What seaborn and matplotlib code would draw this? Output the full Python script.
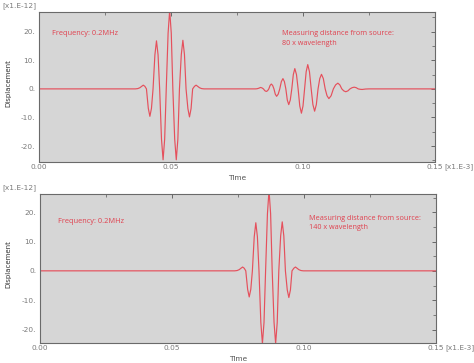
import numpy as np
import pandas as pd
import matplotlib
matplotlib.use("Agg")
import matplotlib.pyplot as plt
from matplotlib.ticker import MultipleLocator, FixedLocator
import seaborn as sns

# ---------------- data (time in 1e-3 s, displacement in 1e-12) ----------------
# Top panel: 80 x wavelength
t_top = [0.0000, 0.0365, 0.0374, 0.0382, 0.0389, 0.0395, 0.0401, 0.0407, 0.0414, 0.0420,
         0.0426, 0.0432, 0.0439, 0.0445, 0.0451, 0.0457, 0.0464, 0.0470, 0.0476, 0.0482,
         0.0489, 0.0495, 0.0501, 0.0507, 0.0514, 0.0520, 0.0526, 0.0532, 0.0539, 0.0545,
         0.0551, 0.0557, 0.0564, 0.0570, 0.0576, 0.0582, 0.0589, 0.0595, 0.0601, 0.0608,
         0.0616, 0.0625,
         0.0820, 0.0826, 0.0833, 0.0839, 0.08445, 0.0850, 0.08555, 0.0861, 0.08658, 0.08705,
         0.08753, 0.0880, 0.0885, 0.0890, 0.0895, 0.0900, 0.0906, 0.0912, 0.0918, 0.0924,
         0.09295, 0.0935, 0.09405, 0.0946, 0.09518, 0.09575, 0.09633, 0.0969, 0.09753, 0.09815,
         0.09878, 0.0994, 0.1000, 0.1006, 0.1012, 0.1018, 0.10245, 0.1031, 0.10375, 0.1044,
         0.10505, 0.1057, 0.10635, 0.1070, 0.1077, 0.1084, 0.1091, 0.1098, 0.11065, 0.1115,
         0.11235, 0.1132, 0.11395, 0.1147, 0.11545, 0.1162, 0.1170, 0.1178, 0.1186, 0.1194,
         0.12015, 0.1209, 0.12165, 0.1224, 0.1237, 0.1250, 0.1500]
u_top = [0.0, 0.0, 0.1, 0.4, 0.9, 1.3, 0.9, 0.0, -6.8, -9.6,
         -6.8, 0.0, 11.9, 16.8, 11.9, 0.0, -17.6, -24.8, -17.6, 0.0,
         19.5, 27.5, 19.5, 0.0, -17.6, -24.8, -17.6, 0.0, 12.0, 17.0,
         12.0, 0.0, -6.9, -9.8, -6.9, 0.0, 0.9, 1.3, 0.9, 0.4,
         0.1, 0.0,
         0.0, 0.05, 0.25, 0.5, 0.35, 0.0, -0.64, -0.9, -0.64, 0.0,
         1.2, 1.7, 1.2, 0.0, -1.85, -2.6, -1.85, 0.0, 2.55, 3.6,
         2.55, 0.0, -3.9, -5.5, -3.9, 0.0, 5.0, 7.1, 5.0, 0.0,
         -6.0, -8.5, -6.0, 0.0, 6.0, 8.5, 6.0, 0.0, -5.5, -7.8,
         -5.5, 0.0, 3.6, 5.1, 3.6, 0.0, -2.4, -3.4, -2.4, 0.0,
         1.4, 2.0, 1.4, 0.0, -0.7, -1.0, -0.7, 0.0, 0.42, 0.6,
         0.42, 0.0, -0.14, -0.2, -0.05, 0.0, 0.0]

# Bottom panel: 140 x wavelength
t_bot = [0.0000, 0.0738, 0.0747, 0.0755, 0.0762, 0.0768, 0.0774, 0.0780, 0.0787, 0.0793,
         0.0799, 0.0805, 0.0812, 0.0818, 0.0824, 0.0830, 0.0837, 0.0843, 0.0849, 0.0855,
         0.0862, 0.0868, 0.0874, 0.0880, 0.0887, 0.0893, 0.0899, 0.0905, 0.0912, 0.0918,
         0.0924, 0.0930, 0.0937, 0.0943, 0.0949, 0.0955, 0.0962, 0.0968, 0.0974, 0.0981,
         0.0989, 0.0998, 0.1500]
u_bot = [0.0, 0.0, 0.1, 0.4, 0.9, 1.3, 0.9, 0.0, -6.3, -8.9,
         -6.3, 0.0, 11.6, 16.4, 11.6, 0.0, -17.6, -24.8, -17.6, 0.0,
         19.5, 27.5, 19.5, 0.0, -17.6, -24.8, -17.6, 0.0, 11.9, 16.7,
         11.9, 0.0, -6.5, -9.1, -6.5, 0.0, 0.9, 1.3, 0.9, 0.4,
         0.1, 0.0, 0.0]

x_ticks = [0.00, 0.05, 0.10, 0.15]
x_ticklabels = ["0.00", "0.05", "0.10", "0.15"]
y_ticks = [-20, -10, 0, 10, 20]
y_ticklabels = ["-20.", "-10.", "0.", "10.", "20."]
freq_label = "Frequency: 0.2MHz"
dist_labels = ["Measuring distance from source:\n80 x wavelength",
               "Measuring distance from source:\n140 x wavelength"]

# ---------------- style ----------------
sns.set_style("white", {"axes.facecolor": "#d6d6d6"})
plt.rcParams["font.family"] = ["DejaVu Sans"]

LINE = "#e5505c"
TXT_RED = "#e0404e"
TICK_C = "#7a7a7a"
FS = 5.3
W, H = 474, 363
fig = plt.figure(figsize=(W / 100, H / 100), dpi=100)
fig.patch.set_facecolor("white")

panels = [
    dict(t=t_top, u=u_top, box=(39, 11.7, 435, 161.5), ylim=(-25.4, 27.0),
         freq_xy=(52, 33.7), dist_xy=(282, 38.5), dist=dist_labels[0]),
    dict(t=t_bot, u=u_bot, box=(39.7, 194, 436, 342.7), ylim=(-24.5, 26.2),
         freq_xy=(58, 221.7), dist_xy=(309, 223), dist=dist_labels[1]),
]

for p in panels:
    x0, y0, x1, y1 = p["box"]
    ax = fig.add_axes([x0 / W, 1 - y1 / H, (x1 - x0) / W, (y1 - y0) / H])
    df = pd.DataFrame({"Time": p["t"], "Displacement": p["u"]})
    sns.lineplot(data=df, x="Time", y="Displacement", ax=ax, color=LINE,
                 linewidth=0.85, estimator=None, sort=True)
    ax.set_xlim(0, 0.15)
    ax.set_ylim(*p["ylim"])
    ax.xaxis.set_major_locator(FixedLocator(x_ticks))
    ax.set_xticklabels(x_ticklabels)
    ax.xaxis.set_minor_locator(MultipleLocator(0.025))
    ax.yaxis.set_major_locator(FixedLocator(y_ticks))
    ax.set_yticklabels(y_ticklabels)
    ax.yaxis.set_minor_locator(MultipleLocator(5))
    ax.tick_params(axis="both", which="both", direction="in", top=True, right=True,
                   colors="#555555", labelcolor=TICK_C, labelsize=FS)
    ax.tick_params(which="major", length=3, width=0.6)
    ax.tick_params(which="minor", length=2, width=0.5)
    ax.tick_params(axis="x", pad=2)
    ax.tick_params(axis="y", pad=2.5)
    for s in ax.spines.values():
        s.set_color("#6a6a6a")
        s.set_linewidth(0.8)
    ax.set_xlabel("")
    ax.set_ylabel("")
    fig.text((x0 + x1) / 2 / W, 1 - (y1 + 16) / H, "Time", fontsize=FS,
             color="#555555", ha="center", va="center")
    fig.text(8.5 / W, 1 - ((y0 + y1) / 2 - 4) / H, "Displacement", fontsize=5.0,
             color="#333333", ha="center", va="center", rotation=90)
    # unit labels
    fig.text(2 / W, 1 - (y0 - 6.5) / H, "[x1.E-12]", fontsize=FS, color=TICK_C,
             ha="left", va="center")
    fig.text((x1 + 9) / W, 1 - (y1 + 5) / H, "[x1.E-3]", fontsize=FS, color=TICK_C,
             ha="left", va="center")
    # annotations
    fig.text(p["freq_xy"][0] / W, 1 - p["freq_xy"][1] / H, freq_label,
             fontsize=5.3, color=TXT_RED, ha="left", va="center", family="Open Sans")
    fig.text(p["dist_xy"][0] / W, 1 - p["dist_xy"][1] / H, p["dist"],
             fontsize=5.2, color=TXT_RED, ha="left", va="center", family="Open Sans",
             linespacing=1.45)

fig.savefig("out.png", dpi=100, facecolor="white")
